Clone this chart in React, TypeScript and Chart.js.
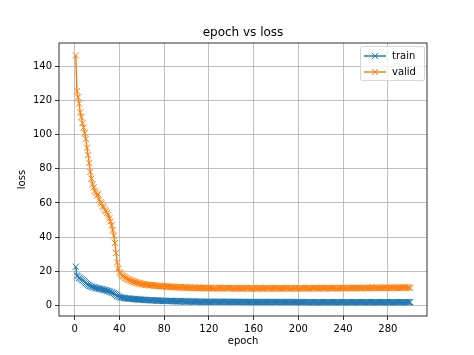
import React, { useEffect, useRef } from 'react';
import { Chart, registerables } from 'chart.js';

Chart.register(...registerables);

const chartTitle = 'epoch vs loss';
const xAxisTitle = 'epoch';
const yAxisTitle = 'loss';
const seriesNames = ['train', 'valid'];

// epochs 1..300
const epochs: number[] = Array.from({ length: 300 }, (_, i) => i + 1);

const trainLoss: number[] = [
  22.6, 17.4, 16.9, 16.1, 15.7, 15.2, 14.6, 14.1, 13.5, 13.0,
  12.4, 12.0, 11.6, 11.3, 11.0, 10.8, 10.5, 10.3, 10.1, 10.0,
  9.8, 9.7, 9.5, 9.4, 9.2, 9.1, 8.9, 8.7, 8.5, 8.3,
  8.1, 7.9, 7.6, 7.3, 7.0, 6.6, 6.1, 5.6, 5.2, 4.9,
  4.7, 4.5, 4.4, 4.3, 4.2, 4.1, 4.0, 3.9, 3.9, 3.8,
  3.7, 3.7, 3.6, 3.6, 3.5, 3.5, 3.4, 3.4, 3.3, 3.3,
  3.2, 3.2, 3.1, 3.1, 3.0, 3.0, 3.0, 2.9, 2.9, 2.9,
  2.8, 2.8, 2.8, 2.7, 2.7, 2.7, 2.7, 2.6, 2.6, 2.6,
  2.6, 2.5, 2.5, 2.5, 2.5, 2.5, 2.4, 2.4, 2.4, 2.4,
  2.4, 2.4, 2.3, 2.3, 2.3, 2.3, 2.3, 2.3, 2.3, 2.3,
  2.2, 2.2, 2.2, 2.2, 2.2, 2.1, 2.1, 2.1, 2.1, 2.1,
  2.1, 2.1, 2.1, 2.0, 2.0, 2.0, 2.0, 2.0, 2.0, 2.0,
  2.0, 2.0, 2.0, 2.0, 2.0, 2.0, 2.0, 2.0, 2.0, 2.0,
  2.0, 2.0, 2.0, 2.0, 2.0, 2.0, 2.0, 2.0, 1.9, 2.0,
  2.0, 1.9, 2.0, 2.0, 1.9, 2.0, 1.9, 2.0, 1.9, 1.9,
  2.0, 1.9, 1.9, 1.9, 1.9, 1.9, 1.9, 1.9, 1.9, 1.9,
  1.9, 1.9, 1.9, 1.9, 1.9, 1.9, 1.9, 1.9, 1.9, 1.9,
  1.9, 1.9, 1.9, 1.9, 1.9, 1.9, 1.9, 1.9, 1.9, 1.9,
  1.9, 1.9, 1.9, 1.9, 1.9, 1.8, 1.9, 1.9, 1.9, 1.9,
  1.9, 1.8, 1.9, 1.9, 1.8, 1.9, 1.9, 1.8, 1.9, 1.8,
  1.9, 1.8, 1.8, 1.9, 1.8, 1.8, 1.9, 1.8, 1.8, 1.8,
  1.8, 1.8, 1.8, 1.8, 1.8, 1.8, 1.8, 1.8, 1.8, 1.8,
  1.8, 1.8, 1.8, 1.8, 1.8, 1.8, 1.8, 1.8, 1.8, 1.8,
  1.8, 1.8, 1.8, 1.8, 1.8, 1.8, 1.8, 1.8, 1.8, 1.8,
  1.8, 1.8, 1.8, 1.8, 1.8, 1.8, 1.8, 1.8, 1.8, 1.8,
  1.8, 1.8, 1.8, 1.8, 1.8, 1.8, 1.8, 1.8, 1.8, 1.8,
  1.8, 1.8, 1.8, 1.8, 1.8, 1.8, 1.8, 1.8, 1.8, 1.8,
  1.8, 1.8, 1.8, 1.8, 1.8, 1.8, 1.8, 1.8, 1.8, 1.8,
  1.8, 1.8, 1.8, 1.8, 1.8, 1.8, 1.8, 1.8, 1.8, 1.8,
  1.8, 1.8, 1.8, 1.8, 1.8, 1.8, 1.8, 1.8, 1.8, 1.8,
];

const validLoss: number[] = [
  146.5, 125.5, 122.0, 118.3, 113.1, 110.4, 106.8, 104.2, 100.9, 97.6,
  92.4, 88.1, 83.5, 78.2, 74.3, 71.0, 69.2, 67.1, 66.0, 64.3,
  65.2, 61.8, 60.4, 59.7, 58.1, 57.3, 56.0, 55.2, 54.1, 52.8,
  51.0, 49.2, 46.9, 44.1, 40.8, 36.5, 30.7, 25.1, 21.3, 19.4,
  18.6, 17.7, 17.1, 16.8, 16.2, 15.9, 15.4, 15.1, 14.8, 14.5,
  14.2, 14.0, 13.7, 13.6, 13.3, 13.1, 12.9, 12.8, 12.6, 12.5,
  12.3, 12.4, 12.1, 12.0, 11.9, 12.0, 11.8, 11.7, 11.8, 11.6,
  11.5, 11.6, 11.4, 11.3, 11.4, 11.2, 11.3, 11.1, 11.2, 11.0,
  11.1, 10.9, 11.0, 10.8, 10.9, 10.8, 10.7, 10.9, 10.6, 10.7,
  10.6, 10.5, 10.7, 10.4, 10.6, 10.5, 10.3, 10.5, 10.4, 10.3,
  10.4, 10.2, 10.5, 10.3, 10.2, 10.4, 10.1, 10.3, 10.2, 10.0,
  10.3, 10.1, 10.2, 9.9, 10.3, 10.1, 10.0, 10.2, 9.9, 10.1,
  10.0, 10.3, 9.8, 10.1, 10.0, 10.2, 9.9, 10.1, 9.8, 10.2,
  10.0, 9.9, 10.1, 9.8, 10.2, 10.0, 9.9, 10.1, 9.7, 10.0,
  10.1, 9.8, 10.0, 9.9, 10.2, 9.8, 10.0, 9.9, 10.1, 9.7,
  10.0, 10.2, 9.8, 10.1, 9.9, 9.7, 10.1, 9.9, 10.0, 9.8,
  10.1, 9.9, 9.7, 10.0, 9.8, 10.2, 9.9, 9.8, 10.0, 9.7,
  10.1, 9.8, 9.9, 10.0, 9.7, 10.1, 9.9, 9.8, 10.2, 9.8,
  9.9, 10.0, 9.7, 10.1, 9.9, 9.8, 10.0, 9.7, 10.1, 9.9,
  9.8, 10.2, 9.9, 10.0, 9.7, 10.1, 9.9, 9.8, 10.1, 9.9,
  10.0, 9.8, 10.2, 9.9, 9.7, 10.1, 10.0, 9.8, 10.2, 9.9,
  10.0, 9.8, 10.1, 10.0, 9.9, 10.2, 9.8, 10.0, 10.1, 9.9,
  10.2, 9.9, 10.0, 10.1, 9.8, 10.2, 10.0, 9.9, 10.1, 10.0,
  9.9, 10.2, 10.0, 10.1, 9.8, 10.2, 10.0, 9.9, 10.3, 10.0,
  10.1, 9.9, 10.2, 10.0, 10.1, 9.9, 10.3, 10.0, 10.1, 10.2,
  9.9, 10.1, 10.3, 10.0, 10.2, 10.1, 9.9, 10.3, 10.1, 10.2,
  10.0, 10.3, 10.1, 10.2, 10.0, 10.4, 10.1, 10.2, 10.0, 10.3,
  10.2, 10.1, 10.4, 10.0, 10.3, 10.2, 10.1, 10.4, 10.2, 10.3,
  10.1, 10.4, 10.2, 10.3, 10.1, 10.5, 10.2, 10.3, 10.4, 10.2,
  10.5, 10.3, 10.2, 10.6, 10.3, 10.4, 10.2, 10.6, 10.3, 10.1,
];

const xTicks: number[] = [0, 40, 80, 120, 160, 200, 240, 280];
const yTicks: number[] = [0, 20, 40, 60, 80, 100, 120, 140];

const TRAIN_COLOR = '#1f77b4';
const VALID_COLOR = '#ff7f0e';
const FONT = 'DejaVu Sans';
const MARKER_HALF = 3.1;

const overlayPlugin = {
  id: 'mplOverlay',
  afterDatasetsDraw(chart: any) {
    const { ctx, chartArea } = chart;
    const { left, right, top, bottom } = chartArea;
    ctx.save();
    // spines
    ctx.strokeStyle = '#000';
    ctx.lineWidth = 0.8;
    ctx.strokeRect(left, top, right - left, bottom - top);

    // legend
    const lx = 360.5, ly = 46.5, lw = 64, lh = 34, r = 2;
    ctx.beginPath();
    ctx.moveTo(lx + r, ly);
    ctx.lineTo(lx + lw - r, ly);
    ctx.quadraticCurveTo(lx + lw, ly, lx + lw, ly + r);
    ctx.lineTo(lx + lw, ly + lh - r);
    ctx.quadraticCurveTo(lx + lw, ly + lh, lx + lw - r, ly + lh);
    ctx.lineTo(lx + r, ly + lh);
    ctx.quadraticCurveTo(lx, ly + lh, lx, ly + lh - r);
    ctx.lineTo(lx, ly + r);
    ctx.quadraticCurveTo(lx, ly, lx + r, ly);
    ctx.closePath();
    ctx.fillStyle = 'rgba(255,255,255,0.8)';
    ctx.fill();
    ctx.strokeStyle = '#cccccc';
    ctx.lineWidth = 0.8;
    ctx.stroke();

    const rows = [
      { name: seriesNames[0], color: TRAIN_COLOR, y: 56 },
      { name: seriesNames[1], color: VALID_COLOR, y: 72 },
    ];
    ctx.font = `10px "${FONT}"`;
    ctx.textBaseline = 'middle';
    ctx.textAlign = 'left';
    for (const row of rows) {
      ctx.strokeStyle = row.color;
      ctx.lineWidth = 1.5;
      ctx.beginPath();
      ctx.moveTo(364, row.y);
      ctx.lineTo(386, row.y);
      ctx.stroke();
      ctx.lineWidth = 1;
      const cx = 375, cy = row.y, m = MARKER_HALF;
      ctx.beginPath();
      ctx.moveTo(cx - m, cy - m);
      ctx.lineTo(cx + m, cy + m);
      ctx.moveTo(cx + m, cy - m);
      ctx.lineTo(cx - m, cy + m);
      ctx.stroke();
      ctx.fillStyle = '#000';
      ctx.fillText(row.name, 392, row.y);
    }

    // title
    ctx.fillStyle = '#000';
    ctx.font = `12px "${FONT}"`;
    ctx.textAlign = 'center';
    ctx.textBaseline = 'middle';
    ctx.fillText(chartTitle, (left + right) / 2, 32.5);

    // axis titles
    ctx.font = `10px "${FONT}"`;
    ctx.fillText(xAxisTitle, (left + right) / 2, 341.5);
    ctx.save();
    ctx.translate(22, (top + bottom) / 2);
    ctx.rotate(-Math.PI / 2);
    ctx.fillText(yAxisTitle, 0, 0);
    ctx.restore();

    ctx.restore();
  },
};

export default function App() {
  const canvasRef = useRef<HTMLCanvasElement | null>(null);

  useEffect(() => {
    if (!canvasRef.current) return;
    const tickFont = { family: FONT, size: 10 };
    const pointRadius = MARKER_HALF / Math.SQRT1_2;
    const chart = new Chart(canvasRef.current, {
      type: 'line',
      data: {
        datasets: [
          {
            label: seriesNames[0],
            data: epochs.map((e, i) => ({ x: e, y: trainLoss[i] })),
            borderColor: TRAIN_COLOR,
            backgroundColor: TRAIN_COLOR,
            borderWidth: 1.5,
            pointStyle: 'crossRot',
            pointRadius,
            pointBorderWidth: 1,
            pointBorderColor: TRAIN_COLOR,
            tension: 0,
            order: 1,
          },
          {
            label: seriesNames[1],
            data: epochs.map((e, i) => ({ x: e, y: validLoss[i] })),
            borderColor: VALID_COLOR,
            backgroundColor: VALID_COLOR,
            borderWidth: 1.5,
            pointStyle: 'crossRot',
            pointRadius,
            pointBorderWidth: 1,
            pointBorderColor: VALID_COLOR,
            tension: 0,
            order: 0,
          },
        ],
      },
      options: {
        responsive: false,
        animation: false,
        layout: { padding: { top: 43, right: 47, left: 0, bottom: 0 } },
        plugins: {
          legend: { display: false },
          tooltip: { enabled: false },
          title: { display: false },
        },
        scales: {
          x: {
            type: 'linear',
            min: -14,
            max: 315,
            afterBuildTicks: (s: any) => {
              s.ticks = xTicks.map((v) => ({ value: v }));
            },
            afterFit: (s: any) => {
              s.height = 39;
            },
            grid: { color: '#b0b0b0', lineWidth: 0.8, tickLength: 4, tickColor: '#000', drawTicks: true },
            border: { display: false },
            ticks: { font: tickFont, color: '#000', padding: 3, maxRotation: 0, autoSkip: false },
          },
          y: {
            type: 'linear',
            min: -6.3,
            max: 153.8,
            afterBuildTicks: (s: any) => {
              s.ticks = yTicks.map((v) => ({ value: v }));
            },
            afterFit: (s: any) => {
              s.width = 59;
            },
            grid: { color: '#b0b0b0', lineWidth: 0.8, tickLength: 4, tickColor: '#000', drawTicks: true },
            border: { display: false },
            ticks: { font: tickFont, color: '#000', padding: 3, autoSkip: false },
          },
        },
      },
      plugins: [overlayPlugin],
    } as any);
    return () => chart.destroy();
  }, []);

  return (
    <div style={{ position: 'fixed', left: 0, top: 0, width: 474, height: 355, background: '#fff' }}>
      <canvas ref={canvasRef} width={474} height={355} style={{ width: 474, height: 355 }} />
    </div>
  );
}
